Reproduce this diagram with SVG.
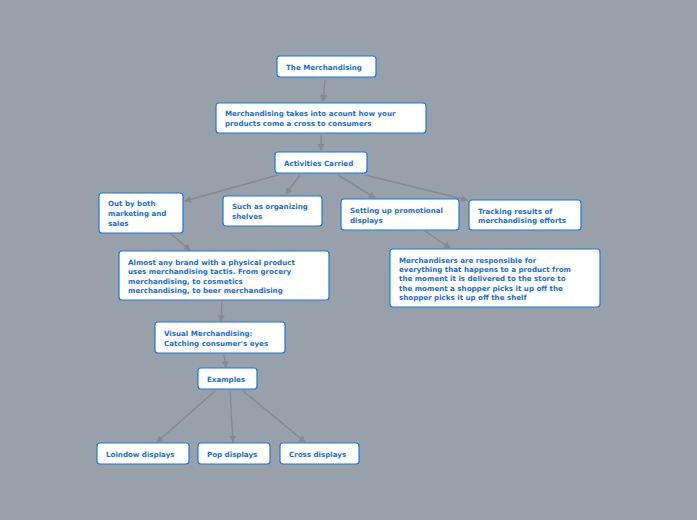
<svg xmlns="http://www.w3.org/2000/svg" width="697" height="520" viewBox="0 0 697 520">
<style>
.n rect{fill:#fff;stroke:#1a7ae0;stroke-width:1.2}
.n text{font-family:"DejaVu Sans",Verdana,sans-serif;font-weight:bold;font-size:7.1px;fill:#1a6fd0}
.c line{stroke:#858b90;stroke-width:1.5;marker-end:url(#a)}
</style>
<defs><marker id="a" markerWidth="8" markerHeight="8" refX="6" refY="3.5" orient="auto" markerUnits="userSpaceOnUse"><path d="M0,0L7,3.5L0,7z" fill="#858b90"/></marker></defs>
<rect width="697" height="520" fill="#98a1a9"/>
<g class="c">
<line x1="325" y1="80" x2="323" y2="101"/>
<line x1="321" y1="135" x2="321" y2="150"/>
<line x1="278" y1="175" x2="185" y2="201"/>
<line x1="300" y1="175" x2="286" y2="194"/>
<line x1="338" y1="175" x2="375" y2="198"/>
<line x1="365" y1="175" x2="467" y2="200"/>
<line x1="170" y1="233" x2="190" y2="250"/>
<line x1="425" y1="231" x2="450" y2="248"/>
<line x1="222" y1="302" x2="221" y2="321"/>
<line x1="224" y1="355" x2="226" y2="367"/>
<line x1="215" y1="391" x2="157" y2="442"/>
<line x1="230" y1="391" x2="233" y2="442"/>
<line x1="243" y1="391" x2="305" y2="442"/>
</g>
<g id="n1" class="n"><rect x="277" y="56" width="99" height="21" rx="3"/><text x="286" y="70">The Merchandising</text></g>
<g id="n2" class="n"><rect x="216" y="103" width="210" height="30" rx="3"/><text x="225" y="116">Merchandising takes into acount how your</text><text x="225" y="126">products come a cross to consumers</text></g>
<g id="n3" class="n"><rect x="275" y="152" width="92" height="21" rx="3"/><text x="284" y="166">Activities Carried</text></g>
<g id="n4" class="n"><rect x="99" y="193" width="84" height="40" rx="3"/><text x="108" y="206">Out by both</text><text x="108" y="216">marketing and</text><text x="108" y="226">sales</text></g>
<g id="n5" class="n"><rect x="223" y="196" width="99" height="30" rx="3"/><text x="232" y="209">Such as organizing</text><text x="232" y="219"> shelves</text></g>
<g id="n6" class="n"><rect x="341" y="199" width="118" height="31" rx="3"/><text x="350" y="213">Setting up promotional</text><text x="350" y="223">displays</text></g>
<g id="n7" class="n"><rect x="469" y="200" width="112" height="30" rx="3"/><text x="478" y="214">Tracking results of</text><text x="478" y="223">merchandising efforts</text></g>
<g id="n8" class="n"><rect x="119" y="251" width="210" height="49" rx="3"/><text x="128" y="265">Almost any brand with a physical product</text><text x="128" y="274">uses merchandising tactis. From grocery</text><text x="128" y="284">merchandising, to cosmetics</text><text x="128" y="293">merchandising, to beer merchandising</text></g>
<g id="n9" class="n"><rect x="390" y="249" width="210" height="58" rx="3"/><text x="399" y="263">Merchandisers are responsible for</text><text x="399" y="272">everything that happens to a product from</text><text x="399" y="281">the moment it is delivered to the store to</text><text x="399" y="291">the moment a shopper picks it up off the</text><text x="399" y="300">shopper picks it up off the shelf</text></g>
<g id="n10" class="n"><rect x="155" y="322" width="130" height="31" rx="3"/><text x="164" y="336">Visual Merchandising:</text><text x="164" y="346">Catching consumer's eyes</text></g>
<g id="n11" class="n"><rect x="198" y="368" width="59" height="21" rx="3"/><text x="207" y="382">Examples</text></g>
<g id="n12" class="n"><rect x="97" y="443" width="92" height="21" rx="3"/><text x="106" y="457">Loindow displays</text></g>
<g id="n13" class="n"><rect x="198" y="443" width="72" height="21" rx="3"/><text x="207" y="457">Pop displays</text></g>
<g id="n14" class="n"><rect x="280" y="443" width="79" height="21" rx="3"/><text x="289" y="457">Cross displays</text></g>
</svg>
